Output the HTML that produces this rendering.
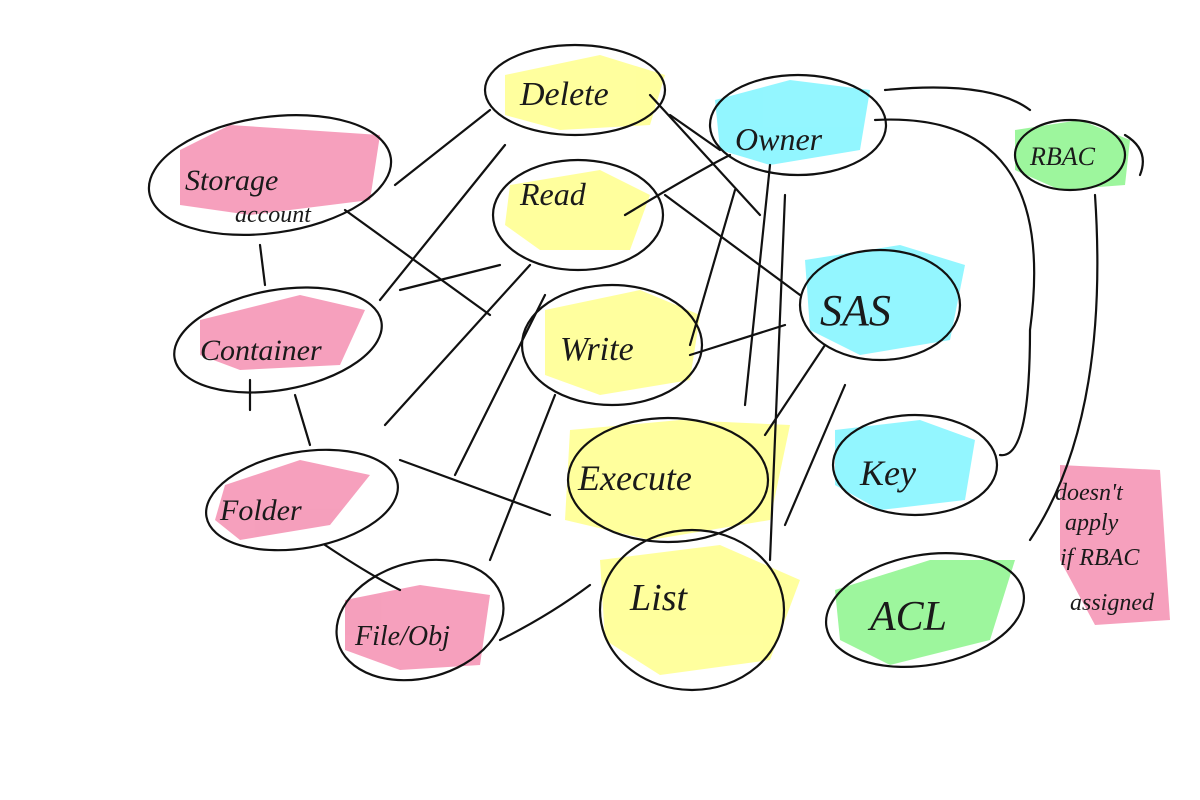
<!DOCTYPE html>
<html><head><meta charset="utf-8"><style>
html,body{margin:0;padding:0;background:#fff;width:1200px;height:800px;overflow:hidden}
text{font-family:"Liberation Serif",serif;font-style:italic;fill:#1a1a1a}
</style></head><body>
<svg width="1200" height="800" viewBox="0 0 1200 800" xmlns="http://www.w3.org/2000/svg">
<g opacity="0.85">
<!-- pink -->
<path d="M180,150 L230,125 L380,135 L370,200 L250,215 L180,205 Z" fill="#f48fb1"/>
<path d="M200,320 L300,295 L365,310 L340,365 L240,370 L200,355 Z" fill="#f48fb1"/>
<path d="M225,485 L300,460 L370,475 L330,525 L240,540 L215,520 Z" fill="#f48fb1"/>
<path d="M345,600 L420,585 L490,595 L480,665 L400,670 L345,650 Z" fill="#f48fb1"/>
<path d="M1060,465 L1160,470 L1170,620 L1095,625 L1060,560 Z" fill="#f48fb1"/>
<!-- yellow -->
<path d="M505,75 L600,55 L665,75 L650,125 L560,130 L505,115 Z" fill="#ffff8d"/>
<path d="M510,185 L600,170 L650,195 L630,250 L540,250 L505,225 Z" fill="#ffff8d"/>
<path d="M545,310 L640,290 L700,315 L690,380 L600,395 L545,375 Z" fill="#ffff8d"/>
<path d="M570,430 L680,420 L790,425 L770,520 L650,540 L565,520 Z" fill="#ffff8d"/>
<path d="M600,560 L720,545 L800,580 L770,660 L660,675 L605,640 Z" fill="#ffff8d"/>
<!-- cyan -->
<path d="M715,100 L790,80 L870,90 L860,150 L770,165 L720,150 Z" fill="#80f5ff"/>
<path d="M805,260 L900,245 L965,265 L950,340 L860,355 L810,330 Z" fill="#80f5ff"/>
<path d="M835,430 L920,420 L975,440 L965,500 L880,510 L835,485 Z" fill="#80f5ff"/>
<!-- green -->
<path d="M1015,130 L1080,120 L1130,140 L1125,185 L1060,190 L1015,170 Z" fill="#8cf58c"/>
<path d="M835,590 L930,560 L1015,560 L990,640 L890,665 L840,640 Z" fill="#8cf58c"/>
</g>
<g fill="none" stroke="#111" stroke-width="2.2" stroke-linecap="round">
<ellipse cx="575" cy="90" rx="90" ry="45"/>
<ellipse cx="270" cy="175" rx="122" ry="58" transform="rotate(-8 270 175)"/>
<ellipse cx="578" cy="215" rx="85" ry="55"/>
<ellipse cx="798" cy="125" rx="88" ry="50"/>
<ellipse cx="1070" cy="155" rx="55" ry="35"/>
<ellipse cx="880" cy="305" rx="80" ry="55"/>
<ellipse cx="278" cy="340" rx="105" ry="50" transform="rotate(-10 278 340)"/>
<ellipse cx="612" cy="345" rx="90" ry="60"/>
<ellipse cx="915" cy="465" rx="82" ry="50"/>
<ellipse cx="668" cy="480" rx="100" ry="62"/>
<ellipse cx="302" cy="500" rx="97" ry="48" transform="rotate(-10 302 500)"/>
<ellipse cx="420" cy="620" rx="85" ry="58" transform="rotate(-15 420 620)"/>
<ellipse cx="692" cy="610" rx="92" ry="80"/>
<ellipse cx="925" cy="610" rx="100" ry="55" transform="rotate(-10 925 610)"/>
<!-- connectors -->
<path d="M395,185 L490,110"/>
<path d="M345,210 L490,315"/>
<path d="M260,245 L265,285"/>
<path d="M380,300 L505,145"/>
<path d="M400,290 L500,265"/>
<path d="M250,380 L250,410"/>
<path d="M295,395 L310,445"/>
<path d="M385,425 L530,265"/>
<path d="M400,460 L550,515"/>
<path d="M455,475 L545,295"/>
<path d="M325,545 Q370,575 400,590"/>
<path d="M490,560 L555,395"/>
<path d="M500,640 Q550,615 590,585"/>
<path d="M650,95 L760,215"/>
<path d="M670,115 L720,150"/>
<path d="M625,215 Q700,170 730,155"/>
<path d="M665,195 L800,295"/>
<path d="M690,345 L735,190"/>
<path d="M690,355 L785,325"/>
<path d="M745,405 L770,165"/>
<path d="M765,435 L825,345"/>
<path d="M770,560 L785,195"/>
<path d="M785,525 L845,385"/>
<path d="M885,90 Q990,80 1030,110"/>
<path d="M875,120 Q1060,110 1030,330 Q1030,460 1000,455"/>
<path d="M1125,135 Q1150,150 1140,175"/>
<path d="M1095,195 Q1110,420 1030,540"/>
</g>
<text x="520" y="105" font-size="34">Delete</text>
<text x="185" y="190" font-size="30">Storage</text>
<text x="235" y="222" font-size="24">account</text>
<text x="520" y="205" font-size="32">Read</text>
<text x="735" y="150" font-size="32">Owner</text>
<text x="1030" y="165" font-size="26">RBAC</text>
<text x="820" y="325" font-size="44">SAS</text>
<text x="200" y="360" font-size="30">Container</text>
<text x="560" y="360" font-size="34">Write</text>
<text x="860" y="485" font-size="36">Key</text>
<text x="578" y="490" font-size="36">Execute</text>
<text x="220" y="520" font-size="30">Folder</text>
<text x="355" y="645" font-size="28">File/Obj</text>
<text x="630" y="610" font-size="38">List</text>
<text x="870" y="630" font-size="42">ACL</text>
<text x="1055" y="500" font-size="24">doesn't</text>
<text x="1065" y="530" font-size="24">apply</text>
<text x="1060" y="565" font-size="24">if RBAC</text>
<text x="1070" y="610" font-size="24">assigned</text>
</svg>
</body></html>
